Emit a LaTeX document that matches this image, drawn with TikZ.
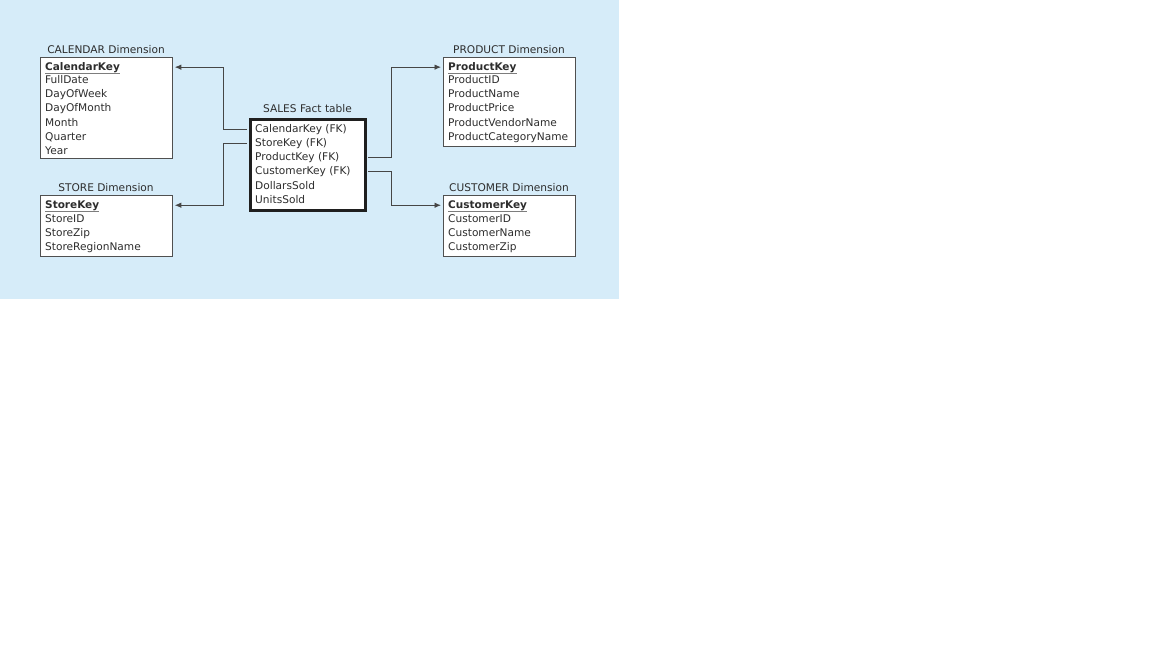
\documentclass[tikz,border=0pt]{standalone}
\usepackage{fontspec}
\setmainfont{DejaVu Sans}
\usetikzlibrary{arrows.meta}
\definecolor{bgblue}{RGB}{214,236,249}
\definecolor{boxgray}{RGB}{80,80,80}
\definecolor{txt}{RGB}{45,45,45}
\definecolor{linegray}{RGB}{70,70,70}
\definecolor{ulgray}{RGB}{125,125,125}
\begin{document}
\begin{tikzpicture}[x=1pt,y=-1pt,
  tbl/.style={draw=boxgray, line width=0.8pt, fill=white, inner sep=0pt, anchor=north west},
  fact/.style={draw=black!88, line width=3pt, fill=white, inner sep=0pt},
  row/.style={anchor=base west, inner sep=0pt, font=\fontsize{10.6}{12}\selectfont, text=txt},
  keyrow/.style={row, font=\fontsize{10.5}{12}\selectfont\bfseries},
  ttl/.style={anchor=base, inner sep=0pt, font=\fontsize{10.6}{12}\selectfont, text=txt},
  conn/.style={draw=linegray, line width=0.9pt, -{Latex[length=6.5pt,width=5.5pt]}, shorten >=2pt},
  ul/.style={draw=ulgray, line width=1.4pt}]
\useasboundingbox (0,0) rectangle (1152,648);
\fill[bgblue] (0,0) rectangle (619,299);

% CALENDAR
\node[ttl] (calt) at (106,53) {CALENDAR Dimension};
\node[tbl, minimum width=132pt, minimum height=101pt] (cal) at (40,57) {};
\node[keyrow] (calkey) at (45,70) {CalendarKey};
\draw[ul] ([yshift=-3.2pt]calkey.base west) -- ([yshift=-3.2pt]calkey.base east);
\node[row] (c2) at (45,83.5) {FullDate};
\node[row] (c3) at (45,97.5) {DayOfWeek};
\node[row] (c4) at (45,111.5) {DayOfMonth};
\node[row] (c5) at (45,126) {Month};
\node[row] (c6) at (45,140) {Quarter};
\node[row] (c7) at (45,154) {Year};

% STORE
\node[ttl] (stot) at (106,191) {STORE Dimension};
\node[tbl, minimum width=132pt, minimum height=61pt] (sto) at (40,195) {};
\node[keyrow] (stokey) at (45,208) {StoreKey};
\draw[ul] ([yshift=-3.2pt]stokey.base west) -- ([yshift=-3.2pt]stokey.base east);
\node[row] (t2) at (45,222) {StoreID};
\node[row] (t3) at (45,236) {StoreZip};
\node[row] (t4) at (45,250.5) {StoreRegionName};

% SALES
\node[ttl] (salt) at (307.5,112) {SALES Fact table};
\node[fact, minimum width=115pt, minimum height=91pt] (sales) at (307.5,164.5) {};
\node[row] (s1) at (255,132) {CalendarKey (FK)};
\node[row] (s2) at (255,146.5) {StoreKey (FK)};
\node[row] (s3) at (255,160.5) {ProductKey (FK)};
\node[row] (s4) at (255,174.5) {CustomerKey (FK)};
\node[row] (s5) at (255,189) {DollarsSold};
\node[row] (s6) at (255,203) {UnitsSold};

% PRODUCT
\node[ttl] (prot) at (509,53) {PRODUCT Dimension};
\node[tbl, minimum width=132pt, minimum height=89pt] (pro) at (443,57) {};
\node[keyrow] (prokey) at (448,70) {ProductKey};
\draw[ul] ([yshift=-3.2pt]prokey.base west) -- ([yshift=-3.2pt]prokey.base east);
\node[row] (p2) at (448,83.5) {ProductID};
\node[row] (p3) at (448,97.5) {ProductName};
\node[row] (p4) at (448,111.5) {ProductPrice};
\node[row] (p5) at (448,126) {ProductVendorName};
\node[row] (p6) at (448,140) {ProductCategoryName};

% CUSTOMER
\node[ttl] (cust) at (509,191) {CUSTOMER Dimension};
\node[tbl, minimum width=132pt, minimum height=61pt] (cus) at (443,195) {};
\node[keyrow] (cuskey) at (448,208) {CustomerKey};
\draw[ul] ([yshift=-3.2pt]cuskey.base west) -- ([yshift=-3.2pt]cuskey.base east);
\node[row] (u2) at (448,222) {CustomerID};
\node[row] (u3) at (448,236) {CustomerName};
\node[row] (u4) at (448,250.5) {CustomerZip};

% connectors
\coordinate (jl) at (223,0);
\coordinate (jr) at (391,0);
\draw[conn] ([xshift=-1.5pt]sales.west |- s1) -- (jl |- s1) |- (cal.east |- calkey);
\draw[conn] ([xshift=-1.5pt]sales.west |- s2) -- (jl |- s2) |- (sto.east |- stokey);
\draw[conn] ([xshift=1.5pt]sales.east |- s3) -- (jr |- s3) |- (pro.west |- prokey);
\draw[conn] ([xshift=1.5pt]sales.east |- s4) -- (jr |- s4) |- (cus.west |- cuskey);
\end{tikzpicture}
\end{document}
